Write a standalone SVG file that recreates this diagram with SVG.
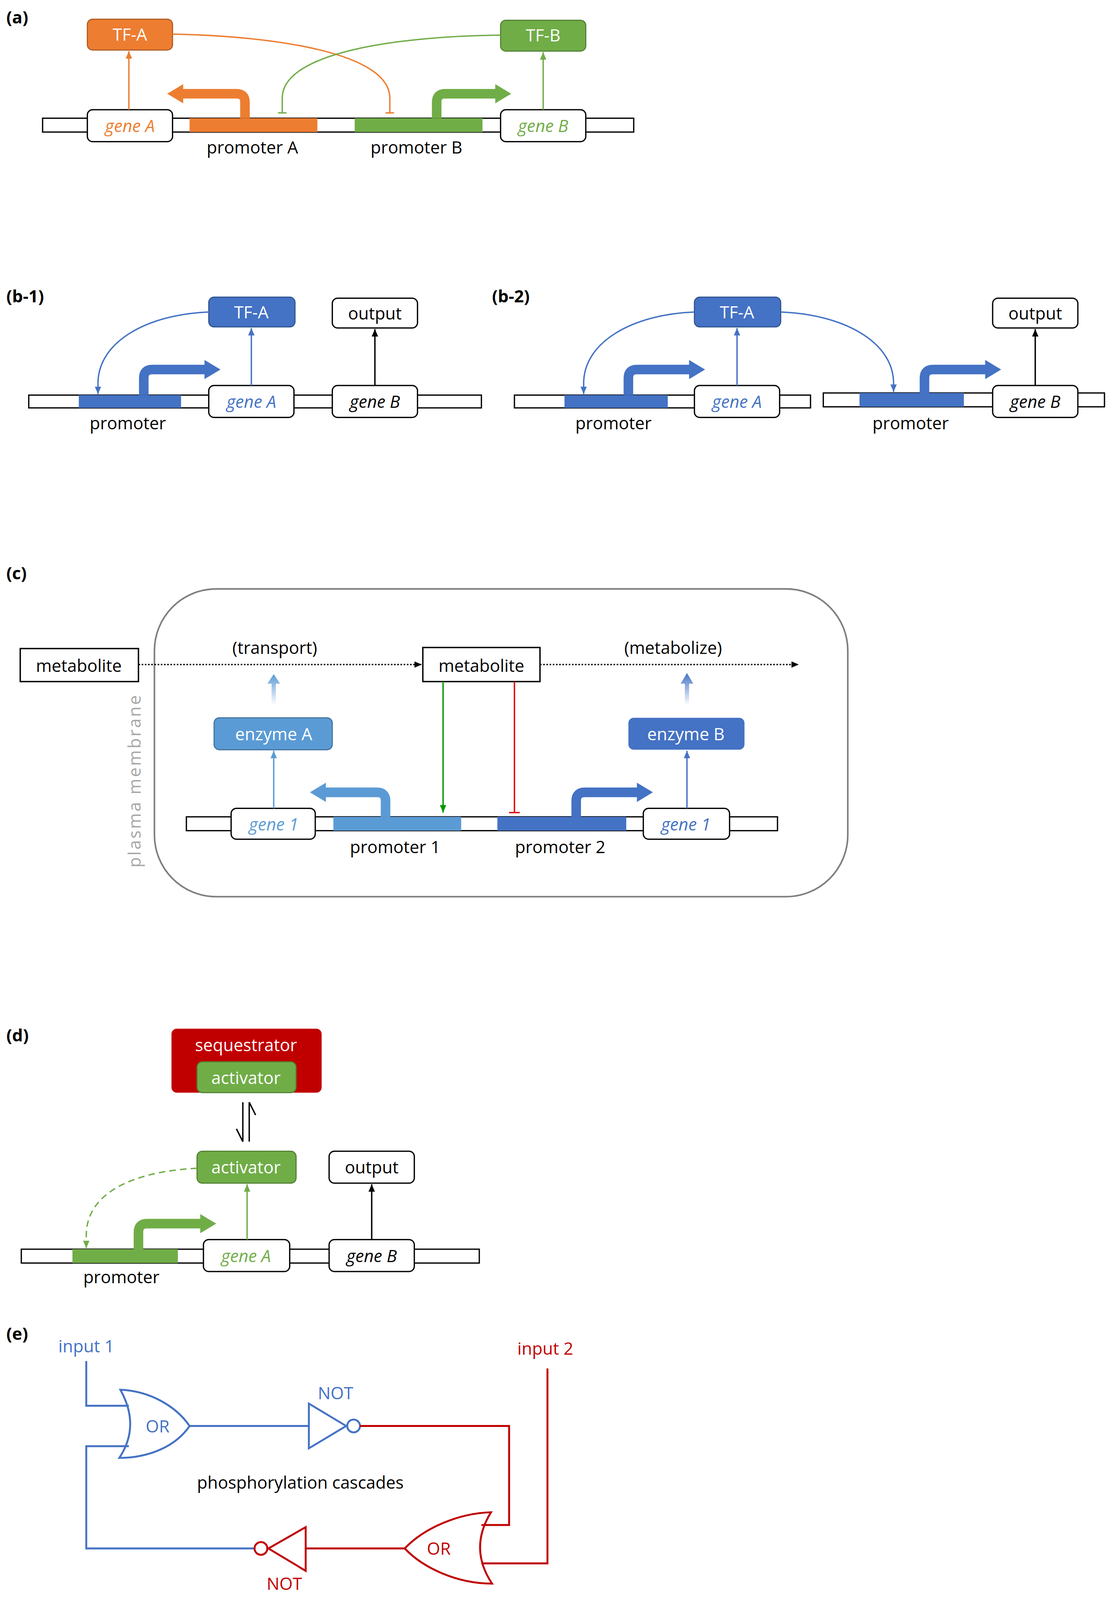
<svg xmlns="http://www.w3.org/2000/svg" width="2849" height="4277" viewBox="0 0 2849 4277">
<defs>
<style>
text{font-family:"Open Sans","Liberation Sans",sans-serif;font-size:16px;text-anchor:middle}
.lbl{font-weight:bold;text-anchor:start}
.w{fill:#fff}
.it{font-style:italic}
.bar{fill:#fff;stroke:#000;stroke-width:1.2}
.gb{fill:#fff;stroke:#000;stroke-width:1.2}
.thin{fill:none;stroke-width:1.3}
.bent{fill:none;stroke-width:9}
</style>
<marker id="mO" markerUnits="userSpaceOnUse" markerWidth="8" markerHeight="8" refX="7" refY="3" orient="auto"><path d="M0,0L7,3L0,6z" fill="#ED7D31"/></marker>
<marker id="mG" markerUnits="userSpaceOnUse" markerWidth="8" markerHeight="8" refX="7" refY="3" orient="auto"><path d="M0,0L7,3L0,6z" fill="#70AD47"/></marker>
<marker id="mB" markerUnits="userSpaceOnUse" markerWidth="8" markerHeight="8" refX="7" refY="3" orient="auto"><path d="M0,0L7,3L0,6z" fill="#4472C4"/></marker>
<marker id="mL" markerUnits="userSpaceOnUse" markerWidth="8" markerHeight="8" refX="7" refY="3" orient="auto"><path d="M0,0L7,3L0,6z" fill="#5B9BD5"/></marker>
<marker id="mK" markerUnits="userSpaceOnUse" markerWidth="8" markerHeight="8" refX="7" refY="3" orient="auto"><path d="M0,0L7,3L0,6z" fill="#000"/></marker>
<marker id="mD" markerUnits="userSpaceOnUse" markerWidth="8" markerHeight="8" refX="7" refY="3" orient="auto"><path d="M0,0L7,3L0,6z" fill="#009900"/></marker>
<linearGradient id="fadeL" x1="0" y1="1" x2="0" y2="0"><stop offset="0" stop-color="#5B9BD5" stop-opacity="0"/><stop offset="1" stop-color="#5B9BD5"/></linearGradient>
<linearGradient id="fadeB" x1="0" y1="1" x2="0" y2="0"><stop offset="0" stop-color="#4472C4" stop-opacity="0"/><stop offset="1" stop-color="#4472C4"/></linearGradient>
</defs>
<rect width="2849" height="4277" fill="#fff"/>
<g transform="scale(2.7263)">
<!-- panel a -->
<g id="panel-a">
<text class="lbl" x="6" y="22">(a)</text>
<rect class="bar" x="40" y="111" width="555" height="13"/>
<rect x="178" y="111" width="120" height="13" fill="#ED7D31"/>
<rect x="333" y="111" width="120" height="13" fill="#70AD47"/>
<g id="geneA-a"><rect class="gb" x="82" y="103" width="80" height="30" rx="5"/><text class="it" x="122" y="124" fill="#ED7D31">gene A</text></g>
<g id="geneB-a"><rect class="gb" x="470" y="103" width="80" height="30" rx="5"/><text class="it" x="510" y="124" fill="#70AD47">gene B</text></g>
<g id="TFA-a"><rect x="82" y="18" width="80" height="29" rx="5" fill="#ED7D31" stroke="#AE5A21" stroke-width="1"/><text class="w" x="122" y="38">TF-A</text></g>
<g id="TFB-a"><rect x="470" y="19" width="80" height="29" rx="5" fill="#70AD47" stroke="#507E32" stroke-width="1"/><text class="w" x="510" y="39">TF-B</text></g>
<text x="237" y="144">promoter A</text>
<text x="391" y="144">promoter B</text>
</g>
<g id="connectors-a">
<path class="bent" stroke="#ED7D31" d="M230,111V96Q230,88 222,88H171"/>
<path d="M172,79L157,88L172,97z" fill="#ED7D31"/>
<path class="bent" stroke="#70AD47" d="M410,111V96Q410,88 418,88H466"/>
<path d="M465,79L480,88L465,97z" fill="#70AD47"/>
<line class="thin" stroke="#ED7D31" x1="121" y1="103" x2="121" y2="48" marker-end="url(#mO)"/>
<line class="thin" stroke="#70AD47" x1="510" y1="103" x2="510" y2="49" marker-end="url(#mG)"/>
<path class="thin" stroke="#ED7D31" d="M162,32C260,34 366,50 366,92V106M362,106H370"/>
<path class="thin" stroke="#70AD47" d="M470,33C370,34 265,50 265,92V106M261,106H269"/>
</g>
<!-- panel b-1 -->
<g id="panel-b1">
<text class="lbl" x="6" y="284">(b-1)</text>
<rect class="bar" x="27" y="371" width="425" height="12"/>
<rect x="74" y="371" width="96" height="12" fill="#4472C4"/>
<g id="geneA-b1"><rect class="gb" x="196" y="362" width="80" height="30" rx="5"/><text class="it" x="236" y="383" fill="#4472C4">gene A</text></g>
<g id="geneB-b1"><rect class="gb" x="312" y="362" width="80" height="30" rx="5"/><text class="it" x="352" y="383">gene B</text></g>
<g id="TFA-b1"><rect x="196" y="279" width="81" height="28" rx="5" fill="#4472C4" stroke="#2F528F" stroke-width="1"/><text class="w" x="236" y="299">TF-A</text></g>
<g id="out-b1"><rect class="gb" x="312" y="280" width="80" height="28" rx="5"/><text x="352" y="300">output</text></g>
<text x="120" y="403">promoter</text>
<path class="bent" stroke="#4472C4" d="M135,371V355Q135,347 143,347H193"/>
<path d="M192,338L207,347L192,356z" fill="#4472C4"/>
<line class="thin" stroke="#4472C4" x1="236" y1="362" x2="236" y2="308" marker-end="url(#mB)"/>
<line class="thin" stroke="#000" x1="352" y1="362" x2="352" y2="309" marker-end="url(#mK)"/>
<path class="thin" stroke="#4472C4" d="M196,293C140,295 92,320 92,360V370" marker-end="url(#mB)"/>
</g>
<!-- panel b-2 -->
<g id="panel-b2">
<text class="lbl" x="462" y="284">(b-2)</text>
<rect class="bar" x="483" y="371" width="278" height="12"/>
<rect x="530" y="371" width="97" height="12" fill="#4472C4"/>
<rect class="bar" x="773" y="369" width="264" height="13"/>
<rect x="807" y="369" width="98" height="13" fill="#4472C4"/>
<g id="geneA-b2"><rect class="gb" x="652" y="362" width="80" height="30" rx="5"/><text class="it" x="692" y="383" fill="#4472C4">gene A</text></g>
<g id="geneB-b2"><rect class="gb" x="932" y="362" width="80" height="30" rx="5"/><text class="it" x="972" y="383">gene B</text></g>
<g id="TFA-b2"><rect x="652" y="279" width="81" height="28" rx="5" fill="#4472C4" stroke="#2F528F" stroke-width="1"/><text class="w" x="692" y="299">TF-A</text></g>
<g id="out-b2"><rect class="gb" x="932" y="280" width="80" height="28" rx="5"/><text x="972" y="300">output</text></g>
<text x="576" y="403">promoter</text>
<text x="855" y="403">promoter</text>
<path class="bent" stroke="#4472C4" d="M590,371V355Q590,347 598,347H648"/>
<path d="M647,338L662,347L647,356z" fill="#4472C4"/>
<path class="bent" stroke="#4472C4" d="M868,369V355Q868,347 876,347H926"/>
<path d="M925,338L940,347L925,356z" fill="#4472C4"/>
<line class="thin" stroke="#4472C4" x1="692" y1="362" x2="692" y2="308" marker-end="url(#mB)"/>
<line class="thin" stroke="#000" x1="972" y1="362" x2="972" y2="309" marker-end="url(#mK)"/>
<path class="thin" stroke="#4472C4" d="M652,293C596,295 548,320 548,360V370" marker-end="url(#mB)"/>
<path class="thin" stroke="#4472C4" d="M733,293C790,295 839,320 839,360V368" marker-end="url(#mB)"/>
</g>
<!-- panel c -->
<g id="panel-c">
<text class="lbl" x="6" y="544">(c)</text>
<rect x="145" y="553" width="651" height="289" rx="58" fill="none" stroke="#7F7F7F" stroke-width="1.5"/>
<text x="0" y="0" transform="translate(132,733) rotate(-90)" fill="#A6A6A6" font-size="17" letter-spacing="1.5">plasma membrane</text>
<g id="met-out"><rect x="19" y="609" width="111" height="31" fill="#fff" stroke="#000" stroke-width="1.3"/><text x="74" y="631">metabolite</text></g>
<g id="met-in"><rect x="397" y="608" width="110" height="32" fill="#fff" stroke="#000" stroke-width="1.3"/><text x="452" y="631">metabolite</text></g>
<text x="258" y="614">(transport)</text>
<text x="632" y="614">(metabolize)</text>
<path d="M255,662V642H251L257,633L263,642H259V662z" fill="url(#fadeL)"/>
<path d="M643,662V642H639L645,632L651,642H647V662z" fill="url(#fadeB)"/>
<g id="enzA"><rect x="201" y="674" width="111" height="30" rx="5" fill="#5B9BD5" stroke="#41719C" stroke-width="1"/><text class="w" x="257" y="695">enzyme A</text></g>
<g id="enzB"><rect x="590" y="674" width="109" height="30" rx="5" fill="#4472C4"/><text class="w" x="644" y="695">enzyme B</text></g>
<rect class="bar" x="175" y="767" width="555" height="13"/>
<rect x="313" y="767" width="120" height="13" fill="#5B9BD5"/>
<rect x="467" y="767" width="121" height="13" fill="#4472C4"/>
<g id="gene1-l"><rect class="gb" x="217" y="759" width="79" height="29" rx="5"/><text class="it" x="257" y="780" fill="#5B9BD5">gene 1</text></g>
<g id="gene1-r"><rect class="gb" x="604" y="759" width="81" height="29" rx="5"/><text class="it" x="644" y="780" fill="#4472C4">gene 1</text></g>
<text x="371" y="801">promoter 1</text>
<text x="526" y="801">promoter 2</text>
</g>
<g id="connectors-c">
<line x1="130" y1="624" x2="396" y2="624" stroke="#000" stroke-width="1.3" stroke-dasharray="1.5 1.5" marker-end="url(#mK)"/>
<line x1="507" y1="624" x2="750" y2="624" stroke="#000" stroke-width="1.3" stroke-dasharray="1.5 1.5" marker-end="url(#mK)"/>
<path class="bent" stroke="#5B9BD5" d="M362,767V752Q362,744 354,744H305"/>
<path d="M306,735L291,744L306,753z" fill="#5B9BD5"/>
<path class="bent" stroke="#4472C4" d="M541,767V752Q541,744 549,744H599"/>
<path d="M598,735L613,744L598,753z" fill="#4472C4"/>
<line class="thin" stroke="#5B9BD5" x1="257" y1="759" x2="257" y2="705" marker-end="url(#mL)"/>
<line class="thin" stroke="#4472C4" x1="645" y1="759" x2="645" y2="705" marker-end="url(#mB)"/>
<line class="thin" stroke="#009900" x1="416" y1="640" x2="416" y2="763" marker-end="url(#mD)"/>
<path class="thin" stroke="#E00000" d="M483,640V763M478,763H488"/>
</g>
<!-- panel d -->
<g id="panel-d">
<text class="lbl" x="6" y="978">(d)</text>
<g id="seq"><rect x="161" y="966" width="141" height="60" rx="5" fill="#C00000"/><text class="w" x="231" y="987">sequestrator</text></g>
<g id="act-bound"><rect x="185" y="997" width="93" height="29" rx="5" fill="#70AD47" stroke="#507E32" stroke-width="1"/><text class="w" x="231" y="1018">activator</text></g>
<g id="act"><rect x="185" y="1081" width="93" height="30" rx="5" fill="#70AD47" stroke="#507E32" stroke-width="1"/><text class="w" x="231" y="1102">activator</text></g>
<g id="out-d"><rect class="gb" x="309" y="1081" width="80" height="30" rx="5"/><text x="349" y="1102">output</text></g>
<rect class="bar" x="20" y="1173" width="430" height="13"/>
<rect x="68" y="1173" width="99" height="13" fill="#70AD47"/>
<g id="geneA-d"><rect class="gb" x="191" y="1164" width="81" height="30" rx="5"/><text class="it" x="231" y="1185" fill="#70AD47">gene A</text></g>
<g id="geneB-d"><rect class="gb" x="309" y="1164" width="80" height="30" rx="5"/><text class="it" x="349" y="1185">gene B</text></g>
<text x="114" y="1205">promoter</text>
</g>
<g id="connectors-d">
<path d="M228,1035V1072L222,1060" fill="none" stroke="#000" stroke-width="1.3"/>
<path d="M234,1072V1035L240,1047" fill="none" stroke="#000" stroke-width="1.3"/>
<path class="bent" stroke="#70AD47" d="M130,1173V1157Q130,1149 138,1149H189"/>
<path d="M188,1140L203,1149L188,1158z" fill="#70AD47"/>
<line class="thin" stroke="#70AD47" x1="232" y1="1164" x2="232" y2="1112" marker-end="url(#mG)"/>
<line class="thin" stroke="#000" x1="349" y1="1164" x2="349" y2="1112" marker-end="url(#mK)"/>
<path class="thin" stroke="#70AD47" stroke-dasharray="6 4" d="M185,1097C125,1100 81,1120 81,1160V1172" marker-end="url(#mG)"/>
</g>
<!-- panel e -->
<g id="panel-e" fill="none" stroke-width="1.8" transform="translate(0,-70)">
<text class="lbl" x="6" y="1328" stroke="none" fill="#000">(e)</text>
<text x="81" y="1340" stroke="none" fill="#4472C4">input 1</text>
<text x="512" y="1342" stroke="none" fill="#C00000">input 2</text>
<text x="148" y="1415" stroke="none" fill="#4472C4">OR</text>
<text x="315" y="1384" stroke="none" fill="#4472C4">NOT</text>
<text x="412" y="1530" stroke="none" fill="#C00000">OR</text>
<text x="267" y="1563" stroke="none" fill="#C00000">NOT</text>
<text x="282" y="1468" stroke="none" fill="#000">phosphorylation cascades</text>
<path stroke="#4472C4" d="M113,1375C140,1376 165,1390 178,1409C165,1428 140,1439 112,1439Q132,1409 113,1375z"/>
<path stroke="#4472C4" d="M81,1348V1390H121M121,1428H81V1524H239M178,1409H290"/>
<path stroke="#4472C4" d="M290,1388V1430L325,1409z"/>
<circle cx="332" cy="1409" r="6" stroke="#4472C4"/>
<path stroke="#C00000" d="M338,1409H478V1502H452M514,1355V1538H452"/>
<path stroke="#C00000" d="M461,1490C430,1491 398,1505 380,1524C398,1543 430,1557 462,1557Q440,1524 461,1490z"/>
<path stroke="#C00000" d="M380,1524H287"/>
<path stroke="#C00000" d="M287,1504V1545L252,1524z"/>
<circle cx="245" cy="1524" r="6" stroke="#C00000"/>
</g>
</g>
</svg>
